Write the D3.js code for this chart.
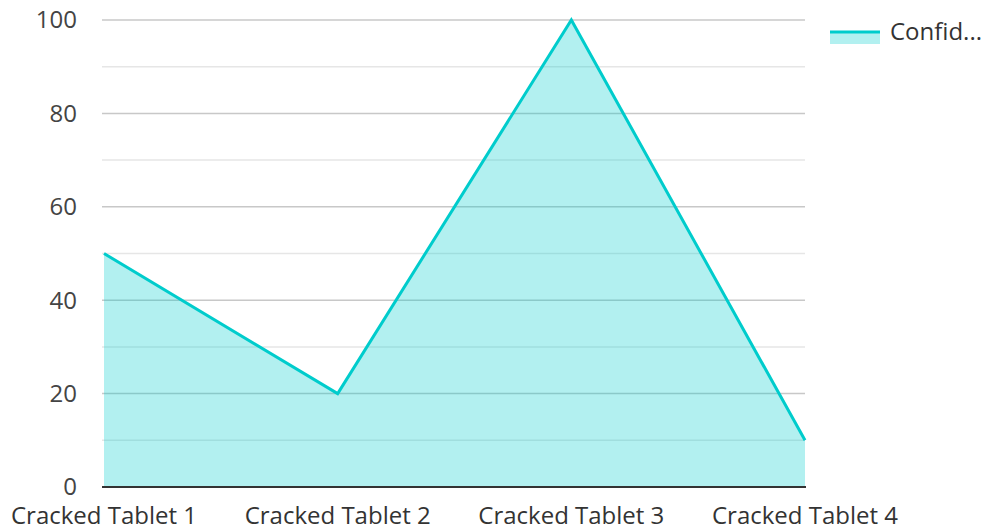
<!DOCTYPE html>
<html><head><meta charset="utf-8">
<script src="https://cdn.jsdelivr.net/npm/d3@7"></script>
<style>body{margin:0;background:#fff}text{font-family:"Open Sans",sans-serif}</style>
</head><body><svg id="c" width="987" height="529"></svg>
<script>
const categories = ["Cracked Tablet 1","Cracked Tablet 2","Cracked Tablet 3","Cracked Tablet 4"];
const seriesName = "Confidence";
const values = [50, 20, 100, 10];
const majorTicks = [0,20,40,60,80,100];
const minorTicks = [10,30,50,70,90];

const svg = d3.select("#c");
const x = d3.scalePoint().domain(categories).range([104, 805]);
const y = d3.scaleLinear().domain([0,100]).range([487, 20]);
const teal = "#00cccc";

svg.append("g").selectAll("line").data(minorTicks).join("line")
  .attr("x1",102).attr("x2",805).attr("y1",d=>y(d)).attr("y2",d=>y(d))
  .attr("stroke","#e6e6e6").attr("stroke-width",1.5);
svg.append("g").selectAll("line").data(majorTicks.filter(d=>d>0)).join("line")
  .attr("x1",102).attr("x2",805).attr("y1",d=>y(d)).attr("y2",d=>y(d))
  .attr("stroke","#c8c8c8").attr("stroke-width",1.5);

const data = categories.map((c,i)=>({c, v: values[i]}));
svg.append("path").datum(data)
  .attr("d", d3.area().x(d=>x(d.c)).y0(y(0)).y1(d=>y(d.v)))
  .attr("fill", teal).attr("fill-opacity", 0.3);
svg.append("path").datum(data)
  .attr("d", d3.line().x(d=>x(d.c)).y(d=>y(d.v)))
  .attr("fill","none").attr("stroke", teal).attr("stroke-width",3).attr("stroke-linejoin","miter");

svg.append("line").attr("x1",102).attr("x2",806).attr("y1",y(0)).attr("y2",y(0))
  .attr("stroke","#333").attr("stroke-width",2);

svg.append("g").selectAll("text").data(majorTicks).join("text")
  .attr("x",77).attr("y",d=>y(d)).attr("dy","0.35em").attr("text-anchor","end")
  .attr("font-size",24).attr("fill","#444").text(d=>d);

svg.append("g").selectAll("text").data(categories).join("text")
  .attr("x",d=>x(d)).attr("y",524).attr("text-anchor","middle")
  .attr("font-size",24).attr("fill","#333").text(d=>d);

const lg = svg.append("g");
lg.append("rect").attr("x",830).attr("y",31).attr("width",50).attr("height",13).attr("fill",teal).attr("fill-opacity",0.3);
lg.append("line").attr("x1",830).attr("x2",880).attr("y1",32).attr("y2",32).attr("stroke",teal).attr("stroke-width",3);
lg.append("text").attr("x",890).attr("y",40).attr("font-size",24).attr("fill","#333").text(seriesName.slice(0,6)+"...");
</script></body></html>
